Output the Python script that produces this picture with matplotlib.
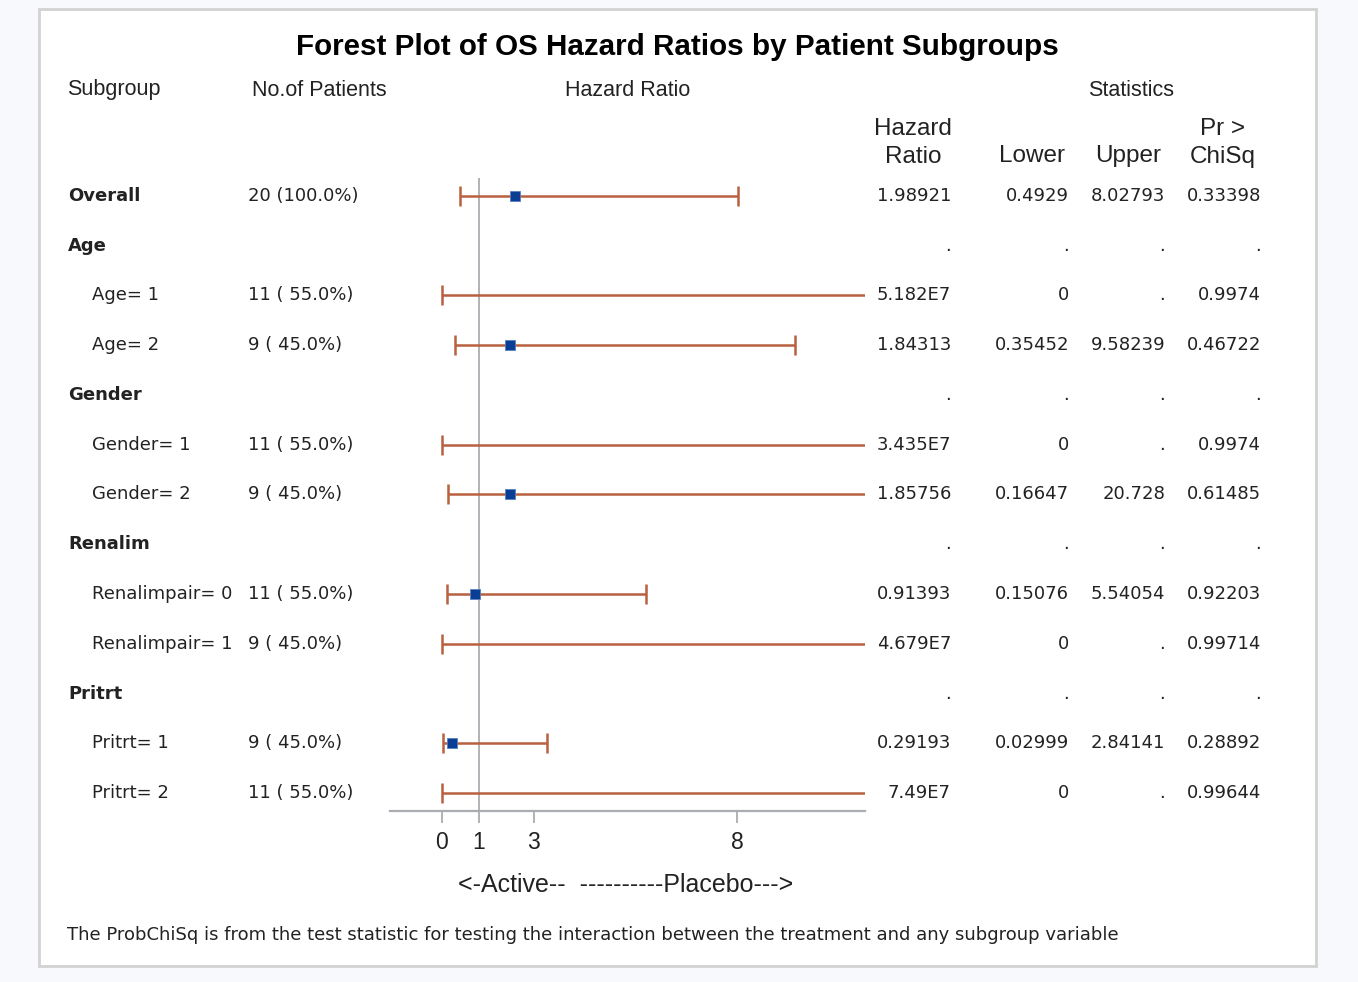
"""Forest plot of OS hazard ratios by patient subgroups (SAS-style table layout)."""
import numpy as np
import matplotlib
matplotlib.use("Agg")
import matplotlib.pyplot as plt
from matplotlib.patches import Rectangle
from matplotlib.transforms import blended_transform_factory

W, H = 1358, 982

labels = ["Overall", "Age", "Age= 1", "Age= 2", "Gender", "Gender= 1", "Gender= 2",
          "Renalim", "Renalimpair= 0", "Renalimpair= 1", "Pritrt", "Pritrt= 1", "Pritrt= 2"]
is_group = [True, True, False, False, True, False, False, True, False, False, True, False, False]
patients = ["20 (100.0%)", "", "11 ( 55.0%)", "9 ( 45.0%)", "", "11 ( 55.0%)", "9 ( 45.0%)",
            "", "11 ( 55.0%)", "9 ( 45.0%)", "", "9 ( 45.0%)", "11 ( 55.0%)"]
hr_txt = ["1.98921", ".", "5.182E7", "1.84313", ".", "3.435E7", "1.85756",
          ".", "0.91393", "4.679E7", ".", "0.29193", "7.49E7"]
lower_txt = ["0.4929", ".", "0", "0.35452", ".", "0", "0.16647",
             ".", "0.15076", "0", ".", "0.02999", "0"]
upper_txt = ["8.02793", ".", ".", "9.58239", ".", ".", "20.728",
             ".", "5.54054", ".", ".", "2.84141", "."]
p_txt = ["0.33398", ".", "0.9974", "0.46722", ".", "0.9974", "0.61485",
         ".", "0.92203", "0.99714", ".", "0.28892", "0.99644"]

tick_vals = [0, 1, 2.5, 8]
tick_labels = ["0", "1", "3", "8"]

BAR = "#b8603f"
MARK = "#0a3d94"
GRID = "#a9adb1"
TXT = "#222222"


def num(s):
    return np.nan if s == "." else float(s)


def fx(x):
    return x / W


def fy(y):
    return 1 - y / H


fig = plt.figure(figsize=(W / 100, H / 100), dpi=100)
fig.patch.set_facecolor("#f8f9fd")
fig.patches.append(Rectangle((fx(39), fy(966)), fx(1316) - fx(39), fy(9) - fy(966),
                             transform=fig.transFigure, facecolor="white",
                             edgecolor="#d2d2d2", lw=2, zorder=-10))

ax = fig.add_axes([fx(390), fy(811), fx(865) - fx(390), fy(178) - fy(811)])
ax.set_facecolor("none")
xmin, xmax = -1.40, 11.47
ax.set_xlim(xmin, xmax)
n = len(labels)
ax.set_ylim(12.36, -0.36)
for s in ("top", "right", "left"):
    ax.spines[s].set_visible(False)
ax.spines["bottom"].set_color(GRID)
ax.spines["bottom"].set_linewidth(1.6)
ax.set_yticks([])
ax.set_xticks(tick_vals)
ax.set_xticklabels(tick_labels, fontsize=16.5, family="Liberation Sans", color=TXT)
ax.tick_params(axis="x", length=8.5, width=1.3, color=GRID, pad=6)

ax.axvline(1, color=GRID, lw=1.3, zorder=1)

for i in range(n):
    lo, hi, hr = num(lower_txt[i]), num(upper_txt[i]), num(hr_txt[i])
    if np.isnan(lo):
        continue
    right = xmax if np.isnan(hi) else min(hi, xmax)
    ax.plot([lo, right], [i, i], color=BAR, lw=1.8, solid_capstyle="butt", zorder=2)
    ax.plot([lo], [i], marker="|", ms=15, mew=1.8, color=BAR, zorder=2)
    if not np.isnan(hi) and hi <= xmax:
        ax.plot([hi], [i], marker="|", ms=15, mew=1.8, color=BAR, zorder=2)
    if hr <= xmax:
        ax.plot([hr], [i], marker="s", ms=6.5, mfc=MARK, mec="#5a7fc0", mew=0.6, zorder=3)

tr = blended_transform_factory(fig.transFigure, ax.transData)
for i in range(n):
    if is_group[i]:
        ax.text(fx(68), i, labels[i], transform=tr, ha="left", va="center",
                fontsize=13, fontweight="bold", color=TXT)
    else:
        ax.text(fx(92), i, labels[i], transform=tr, ha="left", va="center",
                fontsize=13, color=TXT)
    ax.text(fx(248), i, patients[i], transform=tr, ha="left", va="center",
            fontsize=13, color=TXT)
    for col, xr in ((hr_txt, 951), (lower_txt, 1069), (upper_txt, 1165), (p_txt, 1261)):
        ax.text(fx(xr), i, col[i], transform=tr, ha="right", va="center",
                fontsize=13, color=TXT)

# title and headers
fig.text(fx(677), fy(47), "Forest Plot of OS Hazard Ratios by Patient Subgroups",
         ha="center", va="center", fontsize=21.3, fontweight="bold",
         family="Liberation Sans", color="black")
hdr = dict(va="center", fontsize=15.5, family="Liberation Sans", color=TXT)
fig.text(fx(67), fy(90), "Subgroup", ha="left", **hdr)
fig.text(fx(252), fy(90), "No.of Patients", ha="left", **hdr)
fig.text(fx(628), fy(90), "Hazard Ratio", ha="center", **hdr)
fig.text(fx(1131), fy(90), "Statistics", ha="center", **hdr)
sub = dict(va="center", ha="center", fontsize=17.5, family="Liberation Sans", color=TXT)
fig.text(fx(913), fy(129), "Hazard", **sub)
fig.text(fx(913), fy(157), "Ratio", **sub)
fig.text(fx(1032), fy(156), "Lower", **sub)
fig.text(fx(1128), fy(156), "Upper", **sub)
fig.text(fx(1223), fy(129), "Pr >", **sub)
fig.text(fx(1223), fy(157), "ChiSq", **sub)

fig.text(fx(626), fy(885), "<-Active--  ----------Placebo--->", ha="center", va="center",
         fontsize=18, family="Liberation Sans", color=TXT)
fig.text(fx(67), fy(935),
         "The ProbChiSq is from the test statistic for testing the interaction "
         "between the treatment and any subgroup variable",
         ha="left", va="center", fontsize=13, color=TXT)

fig.savefig("out.png", dpi=100, facecolor=fig.get_facecolor())
